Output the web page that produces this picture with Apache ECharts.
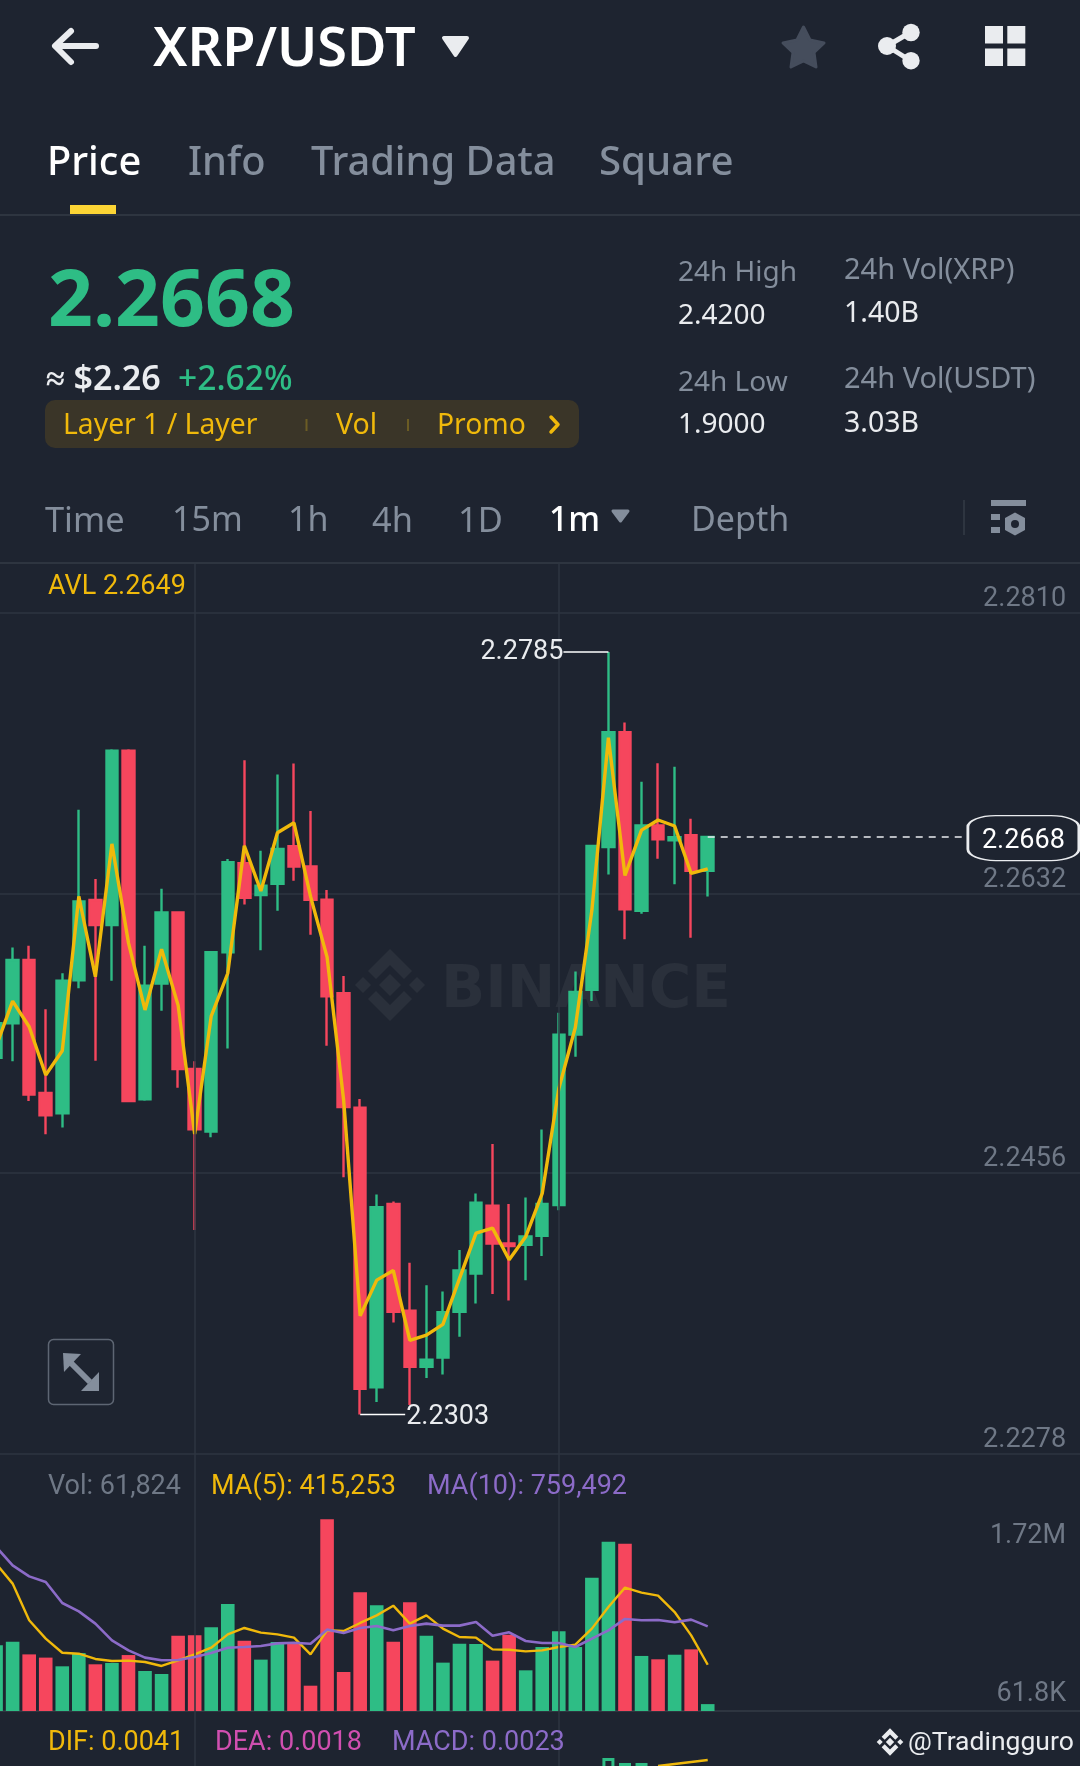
<!DOCTYPE html>
<html>
<head>
<meta charset="utf-8">
<title>XRP/USDT</title>
<script src="https://cdn.jsdelivr.net/npm/echarts@6/dist/echarts.min.js"></script>
<style>
html,body{margin:0;padding:0;background:#1E2430;}
#chart{width:1080px;height:1766px;}
</style>
</head>
<body>
<div id="chart"></div>
<script>
// ---- data ----
const opens = [2.25284,2.25503,2.25903,2.25063,2.24934,2.25774,2.26282,2.26124,2.27226,2.25022,2.25754,2.26203,2.25214,2.24819,2.25952,2.26515,2.26314,2.26384,2.26623,2.26494,2.26284,2.25693,2.24969,2.23202,2.2436,2.23686,2.23331,2.23389,2.23679,2.23921,2.2435,2.24111,2.24102,2.2416,2.24353,2.25431,2.25714,2.26617,2.27343,2.26214,2.26753,2.26659,2.26692,2.26466];
const closes = [2.25503,2.25903,2.25052,2.24921,2.25772,2.26273,2.26124,2.27226,2.25011,2.2574,2.26203,2.25214,2.24833,2.25952,2.26521,2.26296,2.26372,2.26605,2.26494,2.26284,2.25673,2.24973,2.23192,2.2434,2.23679,2.23331,2.23376,2.23676,2.2394,2.24369,2.24111,2.24095,2.24156,2.2436,2.25431,2.25701,2.26624,2.27343,2.26224,2.26753,2.26666,2.26679,2.26466,2.2668];
const lows = [2.25284,2.25262,2.25011,2.24801,2.24844,2.25724,2.25266,2.25772,2.25011,2.25013,2.25582,2.25095,2.24196,2.24783,2.25343,2.26253,2.25964,2.26214,2.26404,2.26063,2.25361,2.2453,2.2303,2.23108,2.23611,2.23089,2.2326,2.23282,2.23521,2.23731,2.23792,2.2375,2.23879,2.24031,2.24321,2.25292,2.25643,2.26443,2.26034,2.26195,2.26543,2.26382,2.26043,2.26305];
const highs = [2.25503,2.25982,2.25993,2.25591,2.25819,2.26853,2.26415,2.27235,2.27235,2.25993,2.26354,2.26207,2.25262,2.25952,2.26542,2.27165,2.26594,2.27075,2.27145,2.26844,2.26345,2.25801,2.25024,2.24421,2.24376,2.23989,2.23847,2.23808,2.24069,2.24427,2.2474,2.2436,2.24402,2.24831,2.25569,2.2583,2.26624,2.2785,2.27404,2.2703,2.27146,2.27124,2.26795,2.2668];
const avgLine = [2.25356,2.25643,2.25481,2.25176,2.25329,2.26305,2.25797,2.26637,2.26011,2.25587,2.25971,2.25616,2.24803,2.25548,2.25819,2.26625,2.26339,2.26707,2.2677,2.26305,2.25921,2.25018,2.23653,2.23879,2.2394,2.23499,2.23531,2.23599,2.23889,2.24176,2.24208,2.24008,2.24153,2.24427,2.25089,2.25476,2.26217,2.27308,2.26437,2.26724,2.26788,2.2675,2.2645,2.26479];
const volumes = [589000,622000,508000,479000,401000,520000,419000,431000,502000,359000,332000,676000,679000,751000,960000,631000,461000,619000,604000,227000,1720000,350000,1065000,948000,622000,975000,676000,434000,604000,601000,452000,685000,365000,574000,715000,574000,1196000,1519000,1501000,494000,464000,505000,553000,61824];
const volMA5 = [1322000,1143000,814000,649000,523000,514000,467000,449000,452000,440000,404000,455000,508000,568000,688000,745000,703000,688000,658000,508000,724000,718000,790000,858000,945000,784000,858000,739000,664000,658000,553000,550000,535000,544000,574000,595000,739000,933000,1107000,1062000,1035000,888000,679000,415253];
const volMA10 = [1472000,1307000,1208000,1158000,969000,894000,784000,634000,544000,479000,455000,458000,485000,520000,568000,574000,583000,607000,613000,604000,730000,700000,745000,763000,724000,763000,784000,766000,766000,799000,676000,706000,628000,610000,610000,574000,649000,724000,826000,814000,817000,796000,820000,759492];
const macdBarIdx = [37,38,39];
const macdBarVal = [0.0043,0.0038,0.0038];
const difIdx = [40,41,42,43];
const difVal = [0.0035,0.0037,0.0039,0.0041];
const priceTicks = [2.2278,2.24556,2.26324,2.28096];
const priceTickLabels = ['2.2278','2.2456','2.2632','2.2810'];
const volTicks = [61824,1720000];
const volTickLabels = ['61.8K','1.72M'];
const guideCandles = [12,34];
const lastPrice = 2.2668, highPrice = 2.2785, lowPrice = 2.2303;
const highIdx = 37, lowIdx = 22;
const slotCount = 66;
const slots = Array.from({length:slotCount},(_,i)=>String(i));

// ---- colours ----
const BG='#1E2430', UP='#2EBD85', DOWN='#F6465D', GOLD='#F0B90B', LINE='#2E3540', MUTE='#848E9C', LIGHT='#EAECEF', PURPLE='#8C6BC8', AX='#6F7886';
const UI="'Noto Sans'", NUM="Roboto";

const candleData = opens.map((o,i)=>[o,closes[i],lows[i],highs[i]]);
const pad = a => a.concat(Array(slotCount-a.length).fill(null));
const sparse = (idx,val,map) => { const r=Array(slotCount).fill(null); idx.forEach((k,j)=>{r[k]=map?map(val[j],k):val[j];}); return r; };

// ---- page furniture as graphic elements ----
const T=(x,y,text,size,fill,opt={})=>({type:'text',z:opt.z==null?10:opt.z,style:{x,y:y+(opt.f===NUM?2.5:size*0.08),text,fill,font:`${opt.w||400} ${size}px ${opt.f||UI}`,textAlign:opt.a||'left',textVerticalAlign:'middle'}});
const R=(x,y,w,h,fill,r)=>({type:'rect',z:10,shape:{x,y,width:w,height:h,r:r||0},style:{fill}});
const P=(points,fill,z)=>({type:'polygon',z:z==null?10:z,shape:{points},style:{fill}});
const PS=(points,fill,lw)=>({type:'polygon',z:10,shape:{points},style:{fill,stroke:fill,lineWidth:lw,lineJoin:'round'}});
const PL=(points,stroke,lw)=>({type:'polyline',z:10,shape:{points},style:{stroke,lineWidth:lw,fill:null,lineCap:'round',lineJoin:'round'}});
const C=(cx,cy,r,fill)=>({type:'circle',z:10,shape:{cx,cy,r},style:{fill}});
function logo(cx,cy,s,fill,z){
  const m=(pts)=>pts.map(p=>[cx+p[0]*s,cy+p[1]*s]);
  return [
    P(m([[0,-11],[11,0],[0,11],[-11,0]]),fill,z),
    P(m([[-27,-8],[-19,0],[-27,8],[-35,0]]),fill,z),
    P(m([[27,-8],[35,0],[27,8],[19,0]]),fill,z),
    P(m([[0,-36],[22,-14],[14,-6],[0,-20],[-14,-6],[-22,-14]]),fill,z),
    P(m([[0,36],[22,14],[14,6],[0,20],[-14,6],[-22,14]]),fill,z)
  ];
}
const graphics=[
  PL([[96,46],[56,46]],LIGHT,6), PL([[71,31],[55,46],[71,62]],LIGHT,6),
  T(153,46,'XRP/USDT',54,'#FFFFFF',{w:600}),
  PS([[444,38],[467,38],[455.5,55]],LIGHT,4),
  PS([[803.5,27],[810,40],[824,43],[814,52.4],[816,67],[803.5,61],[791,67],[793,52.4],[783,43],[797,40]],'#454D5C',3),
  {type:'line',z:10,shape:{x1:887,y1:46,x2:911,y2:32},style:{stroke:LIGHT,lineWidth:5}},
  {type:'line',z:10,shape:{x1:887,y1:46,x2:911,y2:61},style:{stroke:LIGHT,lineWidth:5}},
  C(887,46,9,LIGHT),C(911,32.5,8.7,LIGHT),C(911,60.7,8.7,LIGHT),
  R(985,26,18,17.5,LIGHT),R(1007.3,26,18,17.5,LIGHT),R(985,48.5,18,17.5,LIGHT),R(1007.3,48.5,18,17.5,LIGHT),

  T(47,160,'Price',39.8,'#FFFFFF',{w:500}),
  T(188,160,'Info',39.8,MUTE,{w:500}),
  T(311,160,'Trading Data',39.8,MUTE,{w:500}),
  T(599,160,'Square',40.2,MUTE,{w:500}),
  R(70,205,46,9,'#FCD535'),
  R(0,214,1080,2,LINE),

  T(48,297,'2.2668',78.6,UP,{w:700}),
  T(46,378,'≈ $2.26',34,LIGHT,{w:600}),
  T(178,378,'+2.62%',33.6,UP,{w:500}),
  R(45,400,534,48,'#3A3528',10),
  T(63,424,'Layer 1 / Layer',28.3,GOLD),
  R(305.5,419,2,12,'#6B5C24'),
  T(336,424,'Vol',28.5,GOLD),
  R(407,419,2,12,'#6B5C24'),
  T(437,424,'Promo',28.3,GOLD),
  PL([[551,417],[558,424.5],[551,432]],GOLD,3.5),

  T(678,270.5,'24h High',28,MUTE),
  T(678,313.5,'2.4200',28,LIGHT),
  T(678,380.5,'24h Low',28,MUTE),
  T(678,422.5,'1.9000',28,LIGHT),
  T(844,268.5,'24h Vol(XRP)',29,MUTE),
  T(844,311.5,'1.40B',28.5,LIGHT),
  T(844,377.5,'24h Vol(USDT)',29,MUTE),
  T(844,421.5,'3.03B',28.5,LIGHT),

  T(45,519,'Time',34.4,MUTE),
  T(172,519,'15m',34,MUTE),
  T(288,519,'1h',34,MUTE),
  T(372,519,'4h',34.4,MUTE),
  T(458,519,'1D',34.4,MUTE),
  T(549,519,'1m',33.6,'#FFFFFF',{w:500}),
  PS([[613,511],[628,511],[620.5,521]],MUTE,3),
  T(691,519,'Depth',34,MUTE),
  R(963,500,2,35,LINE),
  R(991,500,35,6,MUTE),R(991,514,9,6,MUTE),R(991,527,9,6,MUTE),
  P([[1015,512.5],[1025,518],[1025,530],[1015,535.5],[1005,530],[1005,518]],MUTE),
  C(1015,524,4,BG),
  R(0,562,1080,2,LINE),

  T(48,585,'AVL 2.2649',27,GOLD,{f:NUM}),

  {type:'rect',z:10,shape:{x:48.5,y:1339.5,width:65,height:65,r:5},style:{fill:null,stroke:'#5E6673',lineWidth:1.5}},
  {type:'line',z:10,shape:{x1:70,y1:1362,x2:90,y2:1382},style:{stroke:MUTE,lineWidth:6}},
  P([[63,1353],[81,1354],[64,1372]],MUTE), P([[99,1391],[81,1391],[99,1372]],MUTE),

  T(48,1484.5,'Vol: 61,824',27,AX,{f:NUM}),
  T(211,1484.5,'MA(5): 415,253',27,GOLD,{f:NUM}),
  T(427,1484.5,'MA(10): 759,492',27,PURPLE,{f:NUM}),

  T(48,1741,'DIF: 0.0041',27,GOLD,{f:NUM}),
  T(215,1741,'DEA: 0.0018',27,'#D04FB0',{f:NUM}),
  T(392,1741,'MACD: 0.0023',27,PURPLE,{f:NUM}),

  T(908,1741,'@Tradingguro',26.5,LIGHT,{z:30,f:NUM}),
].concat(logo(890,1742,0.38,LIGHT,30)).concat([
  {type:'text',z:0,style:{x:441,y:992,text:'BINANCE',fill:'#2A303B',font:"700 58px 'DejaVu Sans'",textAlign:'left',textVerticalAlign:'middle'}}
]).concat(logo(390,985,1,'#2A303B',0));

const guide=(gridIdx)=>({
  type:'line',xAxisIndex:gridIdx,yAxisIndex:gridIdx,data:[],z:1,silent:true,symbol:'none',
  markLine:{silent:true,symbol:'none',label:{show:false},animation:false,
    lineStyle:{color:LINE,width:1.5,type:'solid'},data:guideCandles.map(k=>({xAxis:k}))}
});

const axisX=(gridIdx,showLine)=>({type:'category',gridIndex:gridIdx,data:slots,
  axisLabel:{show:false},axisTick:{show:false},splitLine:{show:false},
  axisLine:{show:showLine,lineStyle:{color:LINE,width:2}}});

const option={
  animation:false,
  backgroundColor:BG,
  graphic:{elements:graphics},
  grid:[
    {left:-12.2,width:1092.3,top:563,height:891,outerBoundsMode:'none'},
    {left:-12.2,width:1092.3,top:1454,height:257,outerBoundsMode:'none'},
    {left:-12.2,width:1092.3,top:1712,height:89,outerBoundsMode:'none'}
  ],
  xAxis:[axisX(0,false),axisX(1,true),axisX(2,false)],
  yAxis:[
    {type:'value',gridIndex:0,position:'right',scale:true,min:2.2278,max:2.2278+891/15819,
      axisLine:{show:false},
      axisTick:{show:false,customValues:priceTicks},
      splitLine:{show:true,lineStyle:{color:LINE,width:1.5}},
      axisLabel:{inside:true,margin:14,color:AX,fontFamily:NUM,fontSize:27,verticalAlign:'bottom',
        customValues:priceTicks,
        formatter:v=>priceTickLabels[priceTicks.indexOf(v)]}},
    {type:'value',gridIndex:1,position:'right',min:0,max:257*8973,
      axisLine:{show:false},
      axisTick:{show:false,customValues:volTicks},
      splitLine:{show:false},
      axisLabel:{inside:true,margin:14,color:AX,fontFamily:NUM,fontSize:27,verticalAlign:'middle',
        customValues:volTicks,
        formatter:v=>{const s=volTickLabels[volTicks.indexOf(v)];return v===volTicks[0]?`{low|${s}}`:`{high|${s}}`;},
        rich:{
          low:{color:AX,fontFamily:NUM,fontSize:27,padding:[0,0,19,0]},
          high:{color:AX,fontFamily:NUM,fontSize:27,padding:[33,0,0,0]}
        }}},
    {type:'value',gridIndex:2,position:'right',min:0,max:0.0089,
      axisLine:{show:false},axisTick:{show:false},axisLabel:{show:false},splitLine:{show:false}}
  ],
  series:[
    guide(0),guide(1),guide(2),
    {type:'candlestick',name:'XRP/USDT',xAxisIndex:0,yAxisIndex:0,z:3,barWidth:12,
      data:pad(candleData).map(d=>d||['-','-','-','-']),
      itemStyle:{color:UP,color0:DOWN,borderColor:UP,borderColor0:DOWN,borderWidth:2.4},
      markPoint:{silent:true,animation:false,z:6,
        data:[
          {coord:[highIdx,highPrice],symbol:'rect',symbolSize:[45,1.5],symbolOffset:[-22.5,0],itemStyle:{color:'#FFFFFF'},
           label:{show:true,position:'left',distance:0,formatter:highPrice.toFixed(4),color:'#EAECEF',fontFamily:NUM,fontSize:27}},
          {coord:[lowIdx,lowPrice],symbol:'rect',symbolSize:[45,1.5],symbolOffset:[22.5,0],itemStyle:{color:'#FFFFFF'},
           label:{show:true,position:'right',distance:1,offset:[0,2.5],formatter:lowPrice.toFixed(4),color:'#EAECEF',fontFamily:NUM,fontSize:27}},
          {coord:[62,lastPrice],symbol:'roundRect',symbolSize:[111,45],symbolOffset:[1.2,1],
           itemStyle:{color:BG,borderColor:'#EAECEF',borderWidth:1.8},
           label:{show:true,position:'inside',offset:[0,3],formatter:lastPrice.toFixed(4),color:'#FFFFFF',fontFamily:NUM,fontSize:27}}
        ]},
      markLine:{silent:true,animation:false,symbol:'none',z:5,label:{show:false},
        lineStyle:{color:'#EAECEF',width:1.5,type:[7,6]},
        data:[[{coord:[highIdx+6,lastPrice]},{coord:[59,lastPrice]}]]}
    },
    {type:'line',name:'AVL',xAxisIndex:0,yAxisIndex:0,z:4,symbol:'none',smooth:false,clip:true,
      data:pad(avgLine),lineStyle:{color:GOLD,width:3.4}},
    {type:'bar',name:'Vol',xAxisIndex:1,yAxisIndex:1,z:3,barWidth:13.6,
      data:pad(volumes.map((v,i)=>({value:v,itemStyle:{color:closes[i]>=opens[i]?UP:DOWN}})))},
    {type:'line',name:'MA(5)',xAxisIndex:1,yAxisIndex:1,z:4,symbol:'none',data:pad(volMA5),lineStyle:{color:GOLD,width:2.4}},
    {type:'line',name:'MA(10)',xAxisIndex:1,yAxisIndex:1,z:5,symbol:'none',data:pad(volMA10),lineStyle:{color:PURPLE,width:2.6}},
    {type:'bar',name:'MACD',xAxisIndex:2,yAxisIndex:2,z:3,barWidth:12,
      data:sparse(macdBarIdx,macdBarVal,(v,k)=>k===37
        ?{value:v,itemStyle:{color:'transparent',borderColor:UP,borderWidth:3}}
        :{value:v,itemStyle:{color:UP}})},
    {type:'line',name:'DIF',xAxisIndex:2,yAxisIndex:2,z:4,symbol:'none',data:sparse(difIdx,difVal),lineStyle:{color:GOLD,width:2.6}}
  ]
};
const chart=echarts.init(document.getElementById('chart'),null,{width:1080,height:1766});
chart.setOption(option);
</script>
</body>
</html>
